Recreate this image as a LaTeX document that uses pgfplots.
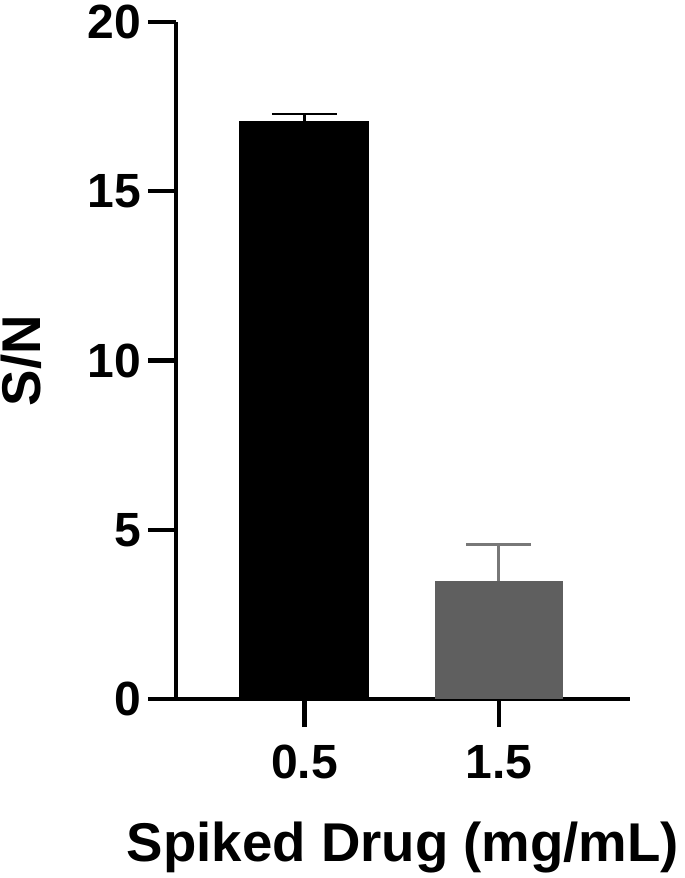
\documentclass[border=0pt]{standalone}
\usepackage{pgfplots}
\pgfplotsset{compat=1.18}
\usepackage{fontspec}
\setmainfont{Liberation Sans}
\definecolor{bargray}{RGB}{95,95,95}
\definecolor{errgray}{RGB}{120,120,120}
\begin{document}
\begin{tikzpicture}
\begin{axis}[
 name=ax,
 scale only axis,
 width=227pt, height=338.5pt,
 xmin=-0.66, xmax=1.674,
 ymin=0, ymax=20,
 axis x line=bottom, axis y line=left,
 axis line style={-, line width=2.2pt},
 xtick={0,1}, xticklabels={0.5,1.5},
 ytick={0,5,10,15,20},
 tick align=outside,
 major tick length=14pt,
 tick style={line width=2.2pt, black},
 /pgf/number format/assume math mode=true,
 ticklabel style={font=\bfseries\fontsize{24}{24}\selectfont},
 xticklabel shift=5.5pt,
 xlabel={Spiked Drug (mg/mL)},
 ylabel={S/N},
 xlabel shift=14.5pt,
 ylabel shift=16pt,
 label style={font=\bfseries\fontsize{27.3}{27.3}\selectfont},
 clip=false,
]
\addplot[ybar, bar width=65pt, fill=black, draw=none,
  error bars/.cd, y dir=plus, y explicit, error mark=|,
  error bar style={draw=black, line width=1.3pt},
  error mark options={draw=black, line width=1.3pt, mark size=16.25pt}]
 coordinates {(0,17.07) +- (0,0.21)};
\addplot[ybar, bar width=64pt, fill=bargray, draw=none,
  error bars/.cd, y dir=plus, y explicit, error mark=|,
  error bar style={draw=errgray, line width=1.5pt},
  error mark options={draw=errgray, line width=1.5pt, mark size=16.25pt}]
 coordinates {(1,3.49) +- (0,1.06)};
\end{axis}
\pgfresetboundingbox
\path (ax.south west) ++(-88pt,-89.5pt) rectangle ++(342.5pt,439pt);
\end{tikzpicture}
\end{document}
